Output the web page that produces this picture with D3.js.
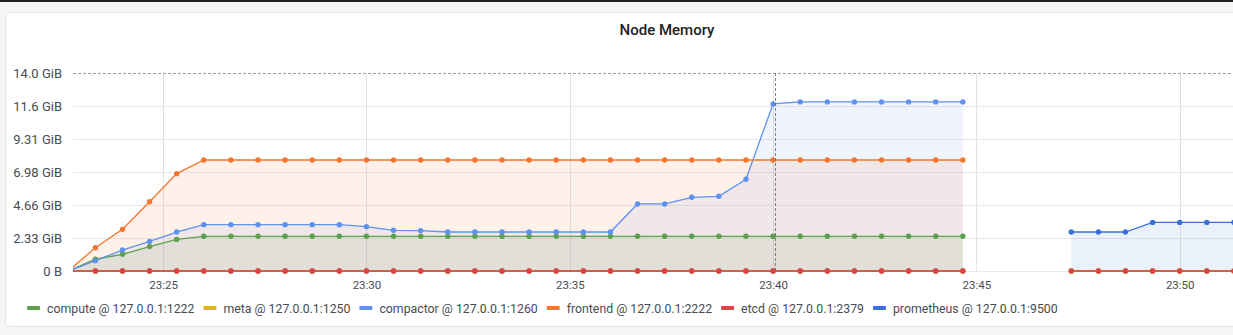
<!DOCTYPE html>
<html>
<head>
<meta charset="utf-8">
<script src="https://cdn.jsdelivr.net/npm/d3@7"></script>
<style>
  html, body { margin: 0; padding: 0; background: #f4f5f5; overflow: hidden; }
  svg { display: block; font-family: Roboto, "Noto Sans", sans-serif; }
</style>
</head>
<body>
<svg id="chart" width="1233" height="335"></svg>
<script>
// ---- data (GiB), one sample every 40 s starting 23:22:40 ----
const startTime = [23, 22, 40];
const stepSeconds = 40;
const seriesNames = ["compute @ 127.0.0.1:1222", "meta @ 127.0.0.1:1250", "compactor @ 127.0.0.1:1260",
                     "frontend @ 127.0.0.1:2222", "etcd @ 127.0.0.1:2379", "prometheus @ 127.0.0.1:9500"];
const seriesColors = ["#5fa04e", "#e0b422", "#5f92ee", "#f2762e", "#de4347", "#3a71d9"];
const N = null;
const compute = [0, 0.83, 1.18, 1.72, 2.23, 2.45, 2.45, 2.45, 2.45, 2.45, 2.45, 2.45, 2.45, 2.45, 2.45, 2.45, 2.45,
  2.45, 2.45, 2.45, 2.45, 2.45, 2.45, 2.45, 2.45, 2.45, 2.45, 2.45, 2.45, 2.45, 2.45, 2.45, 2.45, 2.45,
  N, N, N, 0, 0, 0, 0, 0, 0, 0, 0, 0];
const meta = [0, 0, 0, 0, 0, 0, 0, 0, 0, 0, 0, 0, 0, 0, 0, 0, 0, 0, 0, 0, 0, 0, 0, 0, 0, 0, 0, 0, 0, 0, 0, 0, 0, 0,
  N, N, N, 0, 0, 0, 0, 0, 0, 0, 0, 0];
const compactor = [0, 0.73, 1.48, 2.09, 2.75, 3.27, 3.27, 3.27, 3.27, 3.27, 3.27, 3.13, 2.87, 2.85, 2.75, 2.75, 2.75,
  2.75, 2.75, 2.75, 2.75, 4.73, 4.73, 5.2, 5.27, 6.47, 11.79, 11.93, 11.93, 11.93, 11.93, 11.93, 11.93, 11.93,
  N, N, N, N, N, N, N, N, N, N, N, N];
const frontend = [0, 1.64, 2.94, 4.89, 6.87, 7.83, 7.83, 7.83, 7.83, 7.83, 7.83, 7.83, 7.83, 7.83, 7.83, 7.83, 7.83,
  7.83, 7.83, 7.83, 7.83, 7.83, 7.83, 7.83, 7.83, 7.83, 7.83, 7.83, 7.83, 7.83, 7.83, 7.83, 7.83, 7.83,
  N, N, N, N, N, N, N, N, N, N, N, N];
const etcd = [0, 0, 0, 0, 0, 0, 0, 0, 0, 0, 0, 0, 0, 0, 0, 0, 0, 0, 0, 0, 0, 0, 0, 0, 0, 0, 0, 0, 0, 0, 0, 0, 0, 0,
  N, N, N, 0, 0, 0, 0, 0, 0, 0, 0, 0];
const prometheus = [0, 0, 0, 0, 0, 0, 0, 0, 0, 0, 0, 0, 0, 0, 0, 0, 0, 0, 0, 0, 0, 0, 0, 0, 0, 0, 0, 0, 0, 0, 0, 0, 0, 0,
  N, N, N, 2.75, 2.75, 2.75, 3.43, 3.43, 3.43, 3.43, 3.43, 3.43];
const seriesValues = [compute, meta, compactor, frontend, etcd, prometheus];
const drawOrder = [5, 0, 1, 2, 3, 4];

// axis ticks: 0 .. 15 GB shown in GiB
const yTickBytes = [0, 2.5e9, 5e9, 7.5e9, 10e9, 12.5e9, 15e9];
const yTickLabels = ["0 B", "2.33 GiB", "4.66 GiB", "6.98 GiB", "9.31 GiB", "11.6 GiB", "14.0 GiB"];
const xDomainStart = [23, 22, 47];
const xDomainEnd = [23, 53, 27];
const crosshairTime = [23, 40, 3];
const title = "Node Memory";

// ---- layout ----
const svg = d3.select("#chart");
const W = 1233, H = 335;
const plot = { left: 73, top: 73, right: 1320, bottom: 271 };

const mkDate = (hms) => new Date(2022, 0, 1, hms[0], hms[1], hms[2]);
const t0 = mkDate(startTime);
const times = compute.map((_, i) => new Date(t0.getTime() + i * stepSeconds * 1000));

const x = d3.scaleTime().domain([mkDate(xDomainStart), mkDate(xDomainEnd)]).range([plot.left, plot.right]);
const GiB = Math.pow(2, 30);
const y = d3.scaleLinear().domain([0, 15e9 / GiB]).range([plot.bottom, plot.top]);

// top dark strip and panel
svg.append("rect").attr("x", 0).attr("y", 0).attr("width", W).attr("height", 2).attr("fill", "#202226");
svg.append("rect").attr("x", 5.5).attr("y", 12.5).attr("width", 1360).attr("height", 314)
  .attr("rx", 3).attr("fill", "#ffffff").attr("stroke", "#e3e5e7");

svg.append("text").attr("x", 667).attr("y", 35).attr("text-anchor", "middle")
  .attr("font-size", 15).attr("font-weight", 500).attr("fill", "#202226").text(title);

// clip
svg.append("defs").append("clipPath").attr("id", "clip").append("rect")
  .attr("x", plot.left).attr("y", plot.top - 5).attr("width", plot.right - plot.left).attr("height", plot.bottom - plot.top + 10);

// y grid & labels
const yTicks = yTickBytes.map(b => b / GiB);
const yAxis = d3.axisLeft(y).tickValues(yTicks).tickSize(0).tickPadding(0)
  .tickFormat((d, i) => yTickLabels[i]);
const gy = svg.append("g").attr("transform", `translate(62,0)`).call(yAxis);
gy.select(".domain").remove();
gy.selectAll("text").attr("font-size", 13).attr("fill", "#464c54").attr("font-family", "Roboto, sans-serif");

const grid = svg.append("g");
grid.selectAll("line.h").data(yTicks.slice(0, -1)).join("line")
  .attr("x1", plot.left).attr("x2", W).attr("y1", d => Math.round(y(d)) + 0.5).attr("y2", d => Math.round(y(d)) + 0.5)
  .attr("stroke", "#e9e9e9").attr("stroke-width", 1);
grid.append("line").attr("x1", plot.left).attr("x2", W).attr("y1", plot.top + 0.5).attr("y2", plot.top + 0.5)
  .attr("stroke", "#7d8791").attr("stroke-width", 0.8).attr("stroke-dasharray", "3,2");

// x axis / vertical grid
const xTicks = x.ticks(d3.timeMinute.every(5));
grid.selectAll("line.v").data(xTicks).join("line")
  .attr("x1", d => Math.round(x(d)) + 0.5).attr("x2", d => Math.round(x(d)) + 0.5)
  .attr("y1", plot.top + 1).attr("y2", plot.bottom)
  .attr("stroke", "#e3e3e3").attr("stroke-width", 1);
const xAxis = d3.axisBottom(x).tickValues(xTicks).tickSize(0).tickPadding(0).tickFormat(d3.timeFormat("%H:%M"));
const gx = svg.append("g").attr("transform", `translate(0,${plot.bottom + 10})`).call(xAxis);
gx.select(".domain").remove();
gx.selectAll("text").attr("font-size", 11.5).attr("fill", "#464c54").attr("font-family", "Roboto, sans-serif");

// series
const gData = svg.append("g").attr("clip-path", "url(#clip)");
const area = (vals) => d3.area().defined((d, i) => vals[i] !== null)
  .x((d, i) => x(times[i])).y0(y(0)).y1((d, i) => y(vals[i]));
const line = (vals) => d3.line().defined((d, i) => vals[i] !== null)
  .x((d, i) => x(times[i])).y((d, i) => y(vals[i]));

drawOrder.forEach(s => {
  gData.append("path").datum(seriesValues[s]).attr("d", area(seriesValues[s]))
    .attr("fill", seriesColors[s]).attr("fill-opacity", 0.1);
});
drawOrder.forEach(s => {
  const vals = seriesValues[s];
  gData.append("path").datum(vals).attr("d", line(vals))
    .attr("fill", "none").attr("stroke", seriesColors[s]).attr("stroke-width", 1.3);
  gData.selectAll(null).data(vals.map((v, i) => ({ v, i })).filter(d => d.v !== null && d.i > 0)).join("circle")
    .attr("cx", d => x(times[d.i])).attr("cy", d => y(d.v)).attr("r", 2.7)
    .attr("fill", seriesColors[s]);
});

// crosshair
const cx = Math.round(x(mkDate(crosshairTime))) + 0.5;
svg.append("line").attr("x1", cx).attr("x2", cx).attr("y1", plot.top).attr("y2", plot.bottom)
  .attr("stroke", "#5a6570").attr("stroke-width", 0.8).attr("stroke-dasharray", "3,2");

// legend
const leg = svg.append("g");
let lx = 27;
seriesNames.forEach((name, i) => {
  leg.append("rect").attr("x", lx).attr("y", 306).attr("width", 13).attr("height", 4).attr("rx", 1)
    .attr("fill", seriesColors[i]);
  const t = leg.append("text").attr("x", lx + 20).attr("y", 312.5).attr("font-size", 12.3)
    .attr("fill", "#464c54").text(name);
  lx = lx + 20 + t.node().getComputedTextLength() + 9;
});
</script>
</body>
</html>
